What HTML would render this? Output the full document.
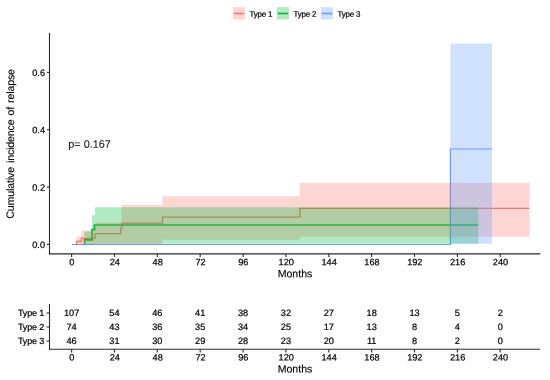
<!DOCTYPE html>
<html><head><meta charset="utf-8"><title>Cumulative incidence of relapse</title>
<style>
html,body{margin:0;padding:0;background:#fff;}
body{width:550px;height:380px;overflow:hidden;}
svg{display:block;font-family:"Liberation Sans",Arial,sans-serif;}
text{text-rendering:geometricPrecision;fill:#000;stroke:#000;stroke-width:0.22px;}
.t{font-size:9.2px;}
.r{font-size:9.0px;letter-spacing:-0.15px;}
.l{font-size:8.0px;letter-spacing:-0.2px;}
.h{font-size:10.55px;stroke-width:0.14px;}
.yt{letter-spacing:-0.12px;word-spacing:1.25px;}
.p{font-size:10.85px;stroke-width:0.12px;fill:#1c1c1c;stroke:#1c1c1c;}
</style></head><body>
<svg width="550" height="380" viewBox="0 0 550 380">
<rect width="550" height="380" fill="#fff"/>
<rect x="232.9" y="7.1" width="12.1" height="12.4" fill="#F8766D" fill-opacity="0.3"/>
<line x1="233.8" x2="244.2" y1="13.5" y2="13.5" stroke="#F8766D" stroke-width="1.6"/>
<text class="l" transform="translate(249.50,16.80) matrix(1,0.002,0,1,0,0)">Type 1</text>
<rect x="276.9" y="7.1" width="12.1" height="12.4" fill="#00BA38" fill-opacity="0.3"/>
<line x1="277.8" x2="288.2" y1="13.5" y2="13.5" stroke="#00BA38" stroke-width="1.6"/>
<text class="l" transform="translate(293.50,16.80) matrix(1,0.002,0,1,0,0)">Type 2</text>
<rect x="320.9" y="7.1" width="12.1" height="12.4" fill="#619CFF" fill-opacity="0.3"/>
<line x1="321.8" x2="332.2" y1="13.5" y2="13.5" stroke="#619CFF" stroke-width="1.6"/>
<text class="l" transform="translate(337.50,16.80) matrix(1,0.002,0,1,0,0)">Type 3</text>
<g fill="none" stroke-linejoin="miter">
<path stroke="#F8766D" stroke-width="1.3" d="M76.5,244.5 V241.5 H81.5 V238.3 H95 V233.7 H120.8 V228.1 H122.2 V223.1 H162.5 V217.1 H299.8 V208.3 H529.6"/>
<path stroke="#00BA38" stroke-width="1.7" d="M84.5,244.5 V239.9 H92 V229.7 H94.5 V225 H478.4"/>
<path stroke="#619CFF" stroke-width="1.2" d="M71.9,244.5 H450.4 V149 H492"/>
</g>
<path fill="#F8766D" fill-opacity="0.3" d="M76.5,244 V236.5 H81.5 V230.6 H95 V222.5 H121.5 V205 H162.5 V196.3 H299.8 V182.7 H529.6 V236.7 H299.8 V239.7 H162.5 V244 Z"/>
<path fill="#00BA38" fill-opacity="0.3" d="M84.5,244 V231.5 H92 V215.2 H95 V207.3 H478.4 V243.7 H95 V244 Z"/>
<path fill="#619CFF" fill-opacity="0.3" d="M450.4,43.6 H492 V243.7 H450.4 Z"/>
<g stroke="#2a2a2a" stroke-width="1.1" fill="none">
<path d="M49.5,33 V254.5"/>
<path stroke-width="1.2" d="M49,253.85 H540.2"/>
<path d="M46.9,244.4 H49.5"/>
<path d="M46.9,187.1 H49.5"/>
<path d="M46.9,129.7 H49.5"/>
<path d="M46.9,72.4 H49.5"/>
<path d="M71.6,253.9 V256.9"/>
<path d="M114.5,253.9 V256.9"/>
<path d="M157.3,253.9 V256.9"/>
<path d="M200.2,253.9 V256.9"/>
<path d="M243.1,253.9 V256.9"/>
<path d="M285.9,253.9 V256.9"/>
<path d="M328.8,253.9 V256.9"/>
<path d="M371.6,253.9 V256.9"/>
<path d="M414.5,253.9 V256.9"/>
<path d="M457.4,253.9 V256.9"/>
<path d="M500.2,253.9 V256.9"/>
</g>
<text class="t" transform="translate(45.00,248.00) matrix(1,0.002,0,1,0,0)" text-anchor="end">0.0</text>
<text class="t" transform="translate(45.00,190.67) matrix(1,0.002,0,1,0,0)" text-anchor="end">0.2</text>
<text class="t" transform="translate(45.00,133.34) matrix(1,0.002,0,1,0,0)" text-anchor="end">0.4</text>
<text class="t" transform="translate(45.00,76.01) matrix(1,0.002,0,1,0,0)" text-anchor="end">0.6</text>
<text class="t" transform="translate(71.90,265.30) matrix(1,0.002,0,1,0,0)" text-anchor="middle">0</text>
<text class="t" transform="translate(114.76,265.30) matrix(1,0.002,0,1,0,0)" text-anchor="middle">24</text>
<text class="t" transform="translate(157.63,265.30) matrix(1,0.002,0,1,0,0)" text-anchor="middle">48</text>
<text class="t" transform="translate(200.49,265.30) matrix(1,0.002,0,1,0,0)" text-anchor="middle">72</text>
<text class="t" transform="translate(243.36,265.30) matrix(1,0.002,0,1,0,0)" text-anchor="middle">96</text>
<text class="t" transform="translate(286.22,265.30) matrix(1,0.002,0,1,0,0)" text-anchor="middle">120</text>
<text class="t" transform="translate(329.08,265.30) matrix(1,0.002,0,1,0,0)" text-anchor="middle">144</text>
<text class="t" transform="translate(371.95,265.30) matrix(1,0.002,0,1,0,0)" text-anchor="middle">168</text>
<text class="t" transform="translate(414.81,265.30) matrix(1,0.002,0,1,0,0)" text-anchor="middle">192</text>
<text class="t" transform="translate(457.68,265.30) matrix(1,0.002,0,1,0,0)" text-anchor="middle">216</text>
<text class="t" transform="translate(500.54,265.30) matrix(1,0.002,0,1,0,0)" text-anchor="middle">240</text>
<text class="h" transform="translate(295.00,277.30) matrix(1,0.002,0,1,0,0)" text-anchor="middle">Months</text>
<text class="h yt" transform="translate(14.00,143.90) rotate(-90) matrix(1,0.002,0,1,0,0)" text-anchor="middle">Cumulative incidence of relapse</text>
<text class="p" transform="translate(68.30,147.75) matrix(1,0.002,0,1,0,0)">p= 0.167</text>
<g stroke="#2a2a2a" stroke-width="1.1" fill="none">
<path d="M49.5,304 V349.8"/>
<path stroke-width="1.2" d="M49,349.25 H540.2"/>
<path d="M46.6,313.0 H49.5"/>
<path d="M46.6,327.0 H49.5"/>
<path d="M46.6,341.0 H49.5"/>
<path d="M71.6,349.3 V352.4"/>
<path d="M114.5,349.3 V352.4"/>
<path d="M157.3,349.3 V352.4"/>
<path d="M200.2,349.3 V352.4"/>
<path d="M243.1,349.3 V352.4"/>
<path d="M285.9,349.3 V352.4"/>
<path d="M328.8,349.3 V352.4"/>
<path d="M371.6,349.3 V352.4"/>
<path d="M414.5,349.3 V352.4"/>
<path d="M457.4,349.3 V352.4"/>
<path d="M500.2,349.3 V352.4"/>
</g>
<text class="r" transform="translate(44.10,316.05) matrix(1,0.002,0,1,0,0)" text-anchor="end">Type 1</text>
<text class="t" transform="translate(71.60,316.05) matrix(1,0.002,0,1,0,0)" text-anchor="middle">107</text>
<text class="t" transform="translate(114.46,316.05) matrix(1,0.002,0,1,0,0)" text-anchor="middle">54</text>
<text class="t" transform="translate(157.33,316.05) matrix(1,0.002,0,1,0,0)" text-anchor="middle">46</text>
<text class="t" transform="translate(200.19,316.05) matrix(1,0.002,0,1,0,0)" text-anchor="middle">41</text>
<text class="t" transform="translate(243.06,316.05) matrix(1,0.002,0,1,0,0)" text-anchor="middle">38</text>
<text class="t" transform="translate(285.92,316.05) matrix(1,0.002,0,1,0,0)" text-anchor="middle">32</text>
<text class="t" transform="translate(328.78,316.05) matrix(1,0.002,0,1,0,0)" text-anchor="middle">27</text>
<text class="t" transform="translate(371.65,316.05) matrix(1,0.002,0,1,0,0)" text-anchor="middle">18</text>
<text class="t" transform="translate(414.51,316.05) matrix(1,0.002,0,1,0,0)" text-anchor="middle">13</text>
<text class="t" transform="translate(457.38,316.05) matrix(1,0.002,0,1,0,0)" text-anchor="middle">5</text>
<text class="t" transform="translate(500.24,316.05) matrix(1,0.002,0,1,0,0)" text-anchor="middle">2</text>
<text class="r" transform="translate(44.10,330.05) matrix(1,0.002,0,1,0,0)" text-anchor="end">Type 2</text>
<text class="t" transform="translate(71.60,330.05) matrix(1,0.002,0,1,0,0)" text-anchor="middle">74</text>
<text class="t" transform="translate(114.46,330.05) matrix(1,0.002,0,1,0,0)" text-anchor="middle">43</text>
<text class="t" transform="translate(157.33,330.05) matrix(1,0.002,0,1,0,0)" text-anchor="middle">36</text>
<text class="t" transform="translate(200.19,330.05) matrix(1,0.002,0,1,0,0)" text-anchor="middle">35</text>
<text class="t" transform="translate(243.06,330.05) matrix(1,0.002,0,1,0,0)" text-anchor="middle">34</text>
<text class="t" transform="translate(285.92,330.05) matrix(1,0.002,0,1,0,0)" text-anchor="middle">25</text>
<text class="t" transform="translate(328.78,330.05) matrix(1,0.002,0,1,0,0)" text-anchor="middle">17</text>
<text class="t" transform="translate(371.65,330.05) matrix(1,0.002,0,1,0,0)" text-anchor="middle">13</text>
<text class="t" transform="translate(414.51,330.05) matrix(1,0.002,0,1,0,0)" text-anchor="middle">8</text>
<text class="t" transform="translate(457.38,330.05) matrix(1,0.002,0,1,0,0)" text-anchor="middle">4</text>
<text class="t" transform="translate(500.24,330.05) matrix(1,0.002,0,1,0,0)" text-anchor="middle">0</text>
<text class="r" transform="translate(44.10,344.05) matrix(1,0.002,0,1,0,0)" text-anchor="end">Type 3</text>
<text class="t" transform="translate(71.60,344.05) matrix(1,0.002,0,1,0,0)" text-anchor="middle">46</text>
<text class="t" transform="translate(114.46,344.05) matrix(1,0.002,0,1,0,0)" text-anchor="middle">31</text>
<text class="t" transform="translate(157.33,344.05) matrix(1,0.002,0,1,0,0)" text-anchor="middle">30</text>
<text class="t" transform="translate(200.19,344.05) matrix(1,0.002,0,1,0,0)" text-anchor="middle">29</text>
<text class="t" transform="translate(243.06,344.05) matrix(1,0.002,0,1,0,0)" text-anchor="middle">28</text>
<text class="t" transform="translate(285.92,344.05) matrix(1,0.002,0,1,0,0)" text-anchor="middle">23</text>
<text class="t" transform="translate(328.78,344.05) matrix(1,0.002,0,1,0,0)" text-anchor="middle">20</text>
<text class="t" transform="translate(371.65,344.05) matrix(1,0.002,0,1,0,0)" text-anchor="middle">11</text>
<text class="t" transform="translate(414.51,344.05) matrix(1,0.002,0,1,0,0)" text-anchor="middle">8</text>
<text class="t" transform="translate(457.38,344.05) matrix(1,0.002,0,1,0,0)" text-anchor="middle">2</text>
<text class="t" transform="translate(500.24,344.05) matrix(1,0.002,0,1,0,0)" text-anchor="middle">0</text>
<text class="t" transform="translate(71.90,360.50) matrix(1,0.002,0,1,0,0)" text-anchor="middle">0</text>
<text class="t" transform="translate(114.76,360.50) matrix(1,0.002,0,1,0,0)" text-anchor="middle">24</text>
<text class="t" transform="translate(157.63,360.50) matrix(1,0.002,0,1,0,0)" text-anchor="middle">48</text>
<text class="t" transform="translate(200.49,360.50) matrix(1,0.002,0,1,0,0)" text-anchor="middle">72</text>
<text class="t" transform="translate(243.36,360.50) matrix(1,0.002,0,1,0,0)" text-anchor="middle">96</text>
<text class="t" transform="translate(286.22,360.50) matrix(1,0.002,0,1,0,0)" text-anchor="middle">120</text>
<text class="t" transform="translate(329.08,360.50) matrix(1,0.002,0,1,0,0)" text-anchor="middle">144</text>
<text class="t" transform="translate(371.95,360.50) matrix(1,0.002,0,1,0,0)" text-anchor="middle">168</text>
<text class="t" transform="translate(414.81,360.50) matrix(1,0.002,0,1,0,0)" text-anchor="middle">192</text>
<text class="t" transform="translate(457.68,360.50) matrix(1,0.002,0,1,0,0)" text-anchor="middle">216</text>
<text class="t" transform="translate(500.54,360.50) matrix(1,0.002,0,1,0,0)" text-anchor="middle">240</text>
<text class="h" transform="translate(295.00,372.50) matrix(1,0.002,0,1,0,0)" text-anchor="middle">Months</text>
</svg></body></html>
